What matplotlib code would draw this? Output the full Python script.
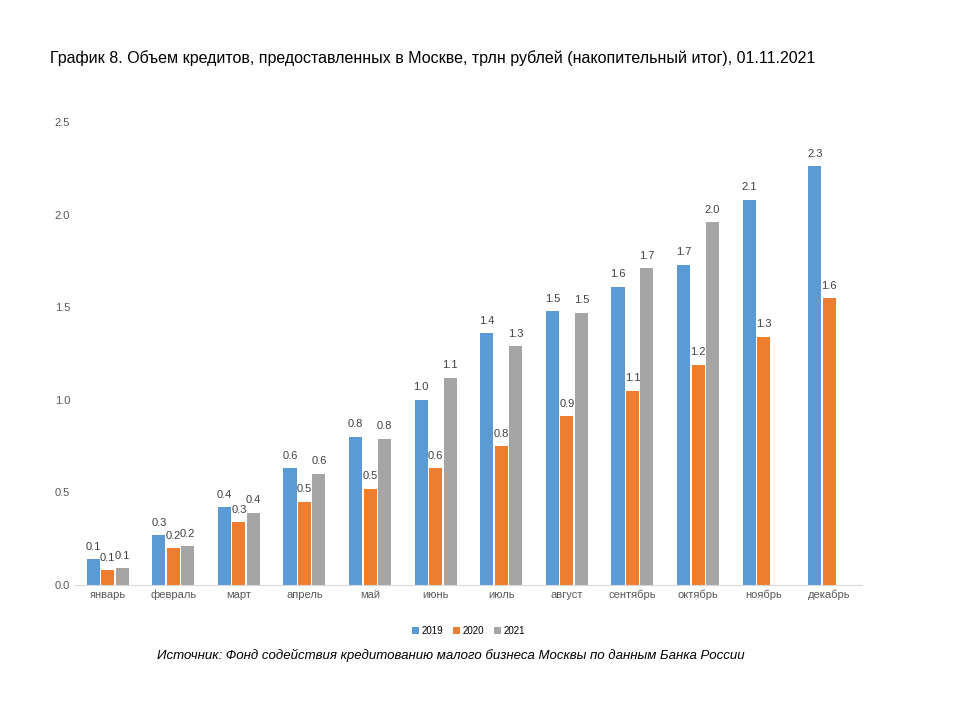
import matplotlib
matplotlib.use("Agg")
import matplotlib.pyplot as plt
import numpy as np

months = ["январь","февраль","март","апрель","май","июнь","июль","август","сентябрь","октябрь","ноябрь","декабрь"]
v2019 = [0.14,0.27,0.42,0.63,0.80,1.00,1.36,1.48,1.61,1.73,2.08,2.26]
v2020 = [0.08,0.20,0.34,0.45,0.52,0.63,0.75,0.91,1.05,1.19,1.34,1.55]
v2021 = [0.09,0.21,0.39,0.60,0.79,1.12,1.29,1.47,1.71,1.96]
years = ["2019","2020","2021"]
colors = ["#5B9BD5","#ED7D31","#A5A5A5"]

plt.rcParams["font.family"] = "Liberation Sans"
fig = plt.figure(figsize=(9.6,7.2), dpi=100)
ax = fig.add_axes([0.078,0.1875,0.82,0.643])
w = 0.2
for i,(vals,c,y) in enumerate(zip([v2019,v2020,v2021],colors,years)):
    x = np.arange(len(vals)) + (i-1)*(w+0.02)
    bars = ax.bar(x, vals, w, color=c, label=y)
    for xi, v in zip(x, vals):
        ax.text(xi, v+0.04, f"{v:.1f}", ha="center", va="bottom", fontsize=8, color="#404040")
ax.set_xlim(-0.5, 11.5)
ax.set_ylim(0, 2.5)
ax.set_yticks(np.arange(0,2.51,0.5))
ax.set_yticklabels([f"{t:.1f}" for t in np.arange(0,2.51,0.5)])
ax.set_xticks(range(12))
ax.set_xticklabels(months)
ax.tick_params(labelsize=8, colors="#595959", length=0)
for s in ["top","right","left"]:
    ax.spines[s].set_visible(False)
ax.spines["bottom"].set_color("#D9D9D9")
ax.legend(loc="upper center", bbox_to_anchor=(0.5,-0.07), ncol=3, frameon=False, fontsize=7,
          handlelength=0.7, handleheight=0.7, columnspacing=1.0, handletextpad=0.3)
fig.text(0.052, 0.92, "График 8. Объем кредитов, предоставленных в Москве, трлн рублей (накопительный итог), 01.11.2021",
         fontsize=11.5, ha="left", va="center")
fig.text(0.47, 0.089, "Источник: Фонд содействия кредитованию малого бизнеса Москвы по данным Банка России",
         fontsize=9.5, style="italic", ha="center", va="center")
fig.savefig("out.png", dpi=100)
